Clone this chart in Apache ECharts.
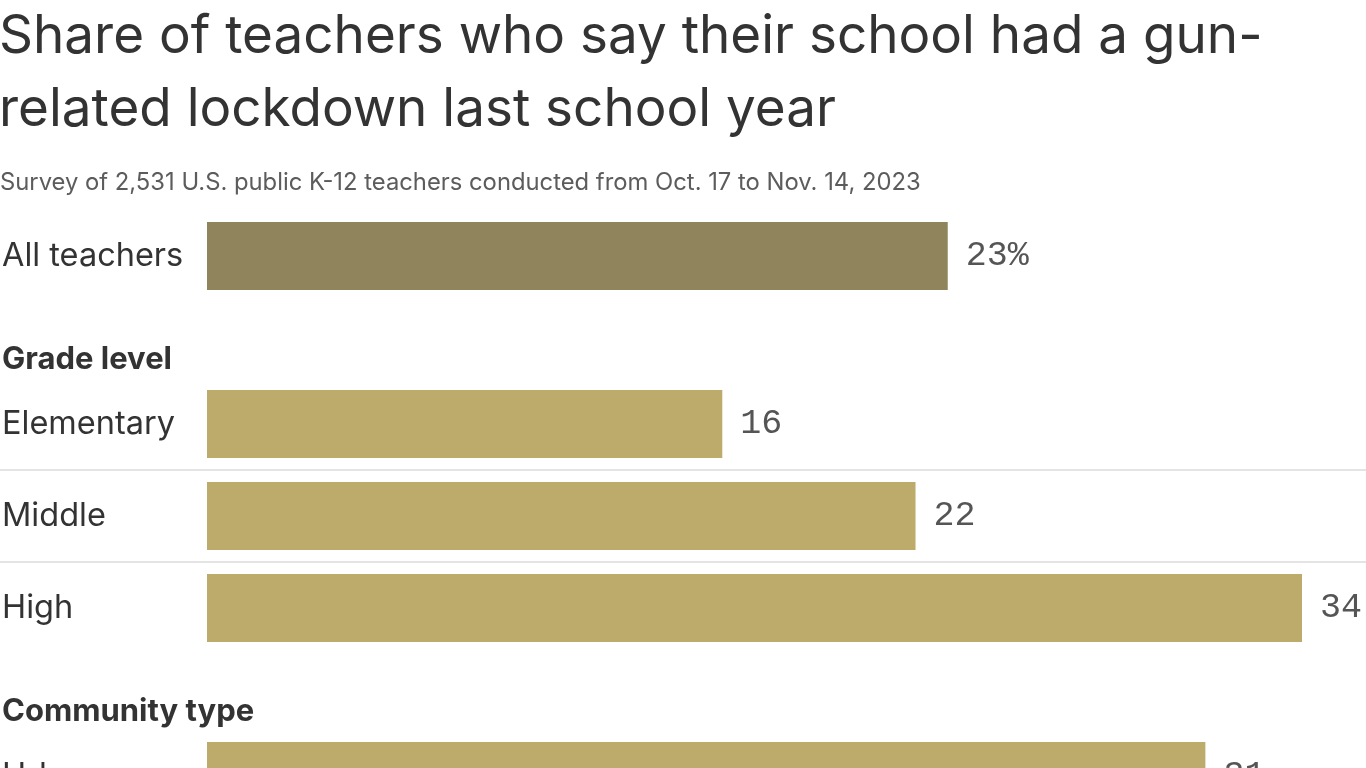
<!DOCTYPE html>
<html>
<head>
<meta charset="utf-8">
<title>Gun-related lockdowns</title>
<script src="https://cdn.jsdelivr.net/npm/echarts@6/dist/echarts.min.js"></script>
<style>
  html, body { margin: 0; padding: 0; background: #fff; overflow: hidden; }
  #chart { width: 1366px; height: 900px; }
</style>
</head>
<body>
<div id="chart"></div>
<script>
// rows as they appear, top to bottom
var rowLabels = ["All teachers", "Elementary", "Middle", "High", "Urban"];
var rowValues = [23, 16, 22, 34, 31];
var rowGroups = [0, 1, 1, 1, 2];
var groupNames = ["", "Grade level", "Community type"];
var valueSuffix = ["%", "", "", "", ""];

var chart = echarts.init(document.getElementById("chart"));

var barLeft = 207;
var barRight = 64;
var barH = 68;
var textFont = "Inter, 'Noto Sans', sans-serif";

var grids = [], xAxes = [], yAxes = [], series = [], graphics = [];
var rowTop = 222;
rowLabels.forEach(function (name, i) {
  if (i > 0) {
    if (rowGroups[i] !== rowGroups[i - 1]) {
      rowTop += barH + 100;
      graphics.push({
        type: "text",
        left: 2,
        top: rowTop - 46,
        style: {
          text: groupNames[rowGroups[i]],
          font: "bold 31px " + textFont,
          fill: "#333"
        }
      });
    } else {
      rowTop += barH + 24;
      // thin divider between rows of the same group
      graphics.push({
        type: "rect",
        shape: { x: 0, y: rowTop - 13, width: 1366, height: 2 },
        style: { fill: "#e4e4e4" }
      });
    }
  }
  grids.push({
    left: barLeft, right: barRight, top: rowTop, height: barH,
    outerBoundsMode: "none"
  });
  xAxes.push({
    gridIndex: i, type: "value", min: 0, max: 34,
    show: false
  });
  yAxes.push({
    gridIndex: i, type: "category", data: [name],
    axisLine: { show: false }, axisTick: { show: false },
    axisLabel: {
      align: "left", margin: barLeft - 2,
      fontFamily: textFont, fontSize: 32.5, color: "#333"
    }
  });
  series.push({
    type: "bar", xAxisIndex: i, yAxisIndex: i,
    data: [rowValues[i]],
    barWidth: "100%",
    itemStyle: { color: i === 0 ? "#8f845c" : "#bdab6c" },
    label: {
      show: true, position: "right", distance: 18,
      formatter: "{c}" + valueSuffix[i],
      fontFamily: "'Liberation Mono', monospace",
      fontSize: 35, color: "#555"
    },
    silent: true
  });
});

chart.setOption({
  backgroundColor: "#fff",
  animation: false,
  title: [
    {
      text: "Share of teachers who say their school had a gun-\nrelated lockdown last school year",
      left: -6, top: -4,
      textStyle: {
        fontFamily: textFont, fontSize: 53, fontWeight: "normal",
        color: "#333", lineHeight: 73
      }
    },
    {
      text: "Survey of 2,531 U.S. public K-12 teachers conducted from Oct. 17 to Nov. 14, 2023",
      left: -5, top: 166,
      textStyle: {
        fontFamily: textFont, fontSize: 23.8, fontWeight: "normal",
        color: "#5c5c5c"
      }
    }
  ],
  grid: grids,
  xAxis: xAxes,
  yAxis: yAxes,
  series: series,
  graphic: graphics
});
</script>
</body>
</html>
